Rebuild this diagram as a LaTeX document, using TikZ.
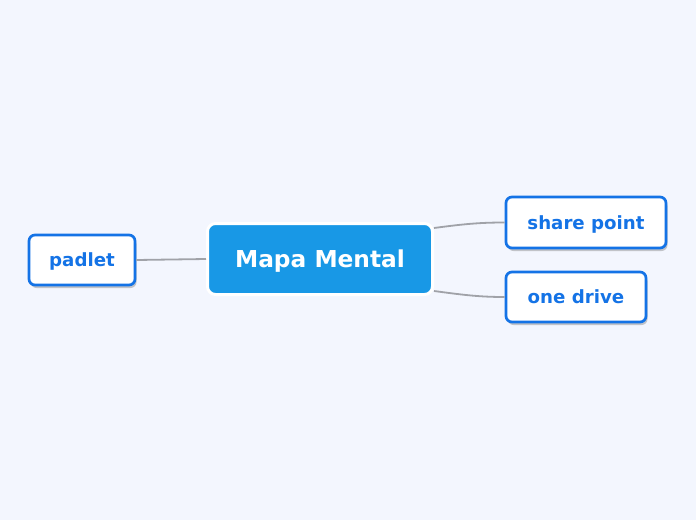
\documentclass[tikz,border=0pt]{standalone}
\usepackage{fontspec}
\setmainfont{DejaVu Sans}
\usetikzlibrary{shadows}
\definecolor{bg}{HTML}{F3F6FE}
\definecolor{mainblue}{HTML}{1898E6}
\definecolor{edgeblue}{HTML}{1473E6}
\definecolor{linegray}{HTML}{A0A2A8}
\tikzset{
  childbox/.style={draw=edgeblue, line width=2.7pt, fill=white, rounded corners=6pt,
    text=edgeblue, font=\bfseries\fontsize{18.2}{20}\selectfont, inner sep=0pt,
    text height=13.6pt, text depth=0pt,
    drop shadow={shadow xshift=1.5pt, shadow yshift=-3pt, opacity=0.35, fill=black!60}},
  centralbox/.style={draw=white, line width=3pt, fill=mainblue, rounded corners=8pt,
    text=white, font=\bfseries\fontsize{23.3}{26}\selectfont, inner sep=0pt,
    text height=17pt, text depth=0pt},
  link/.style={draw=linegray, line width=1.8pt}
}
\begin{document}
\begin{tikzpicture}[x=1pt,y=-1pt]
\fill[bg] (0,0) rectangle (696,520);
\useasboundingbox (0,0) rectangle (696,520);
\node[centralbox, minimum width=225pt, minimum height=71pt] (c) at (320,259) {Mapa Mental};
\node[childbox, minimum width=106pt, minimum height=50pt] (p) at (82,260) {padlet};
\node[childbox, minimum width=160pt, minimum height=51pt] (s) at (586,222.5) {share point};
\node[childbox, minimum width=140pt, minimum height=50pt] (o) at (576,297) {one drive};
\draw[link] (p.east) -- (c.west);
\draw[link] ([yshift=31pt]c.east) .. controls ([xshift=30pt,yshift=35pt]c.east) and ([xshift=-25pt]s.west) .. (s.west);
\draw[link] ([yshift=-32pt]c.east) .. controls ([xshift=30pt,yshift=-36pt]c.east) and ([xshift=-25pt]o.west) .. (o.west);
\end{tikzpicture}
\end{document}
